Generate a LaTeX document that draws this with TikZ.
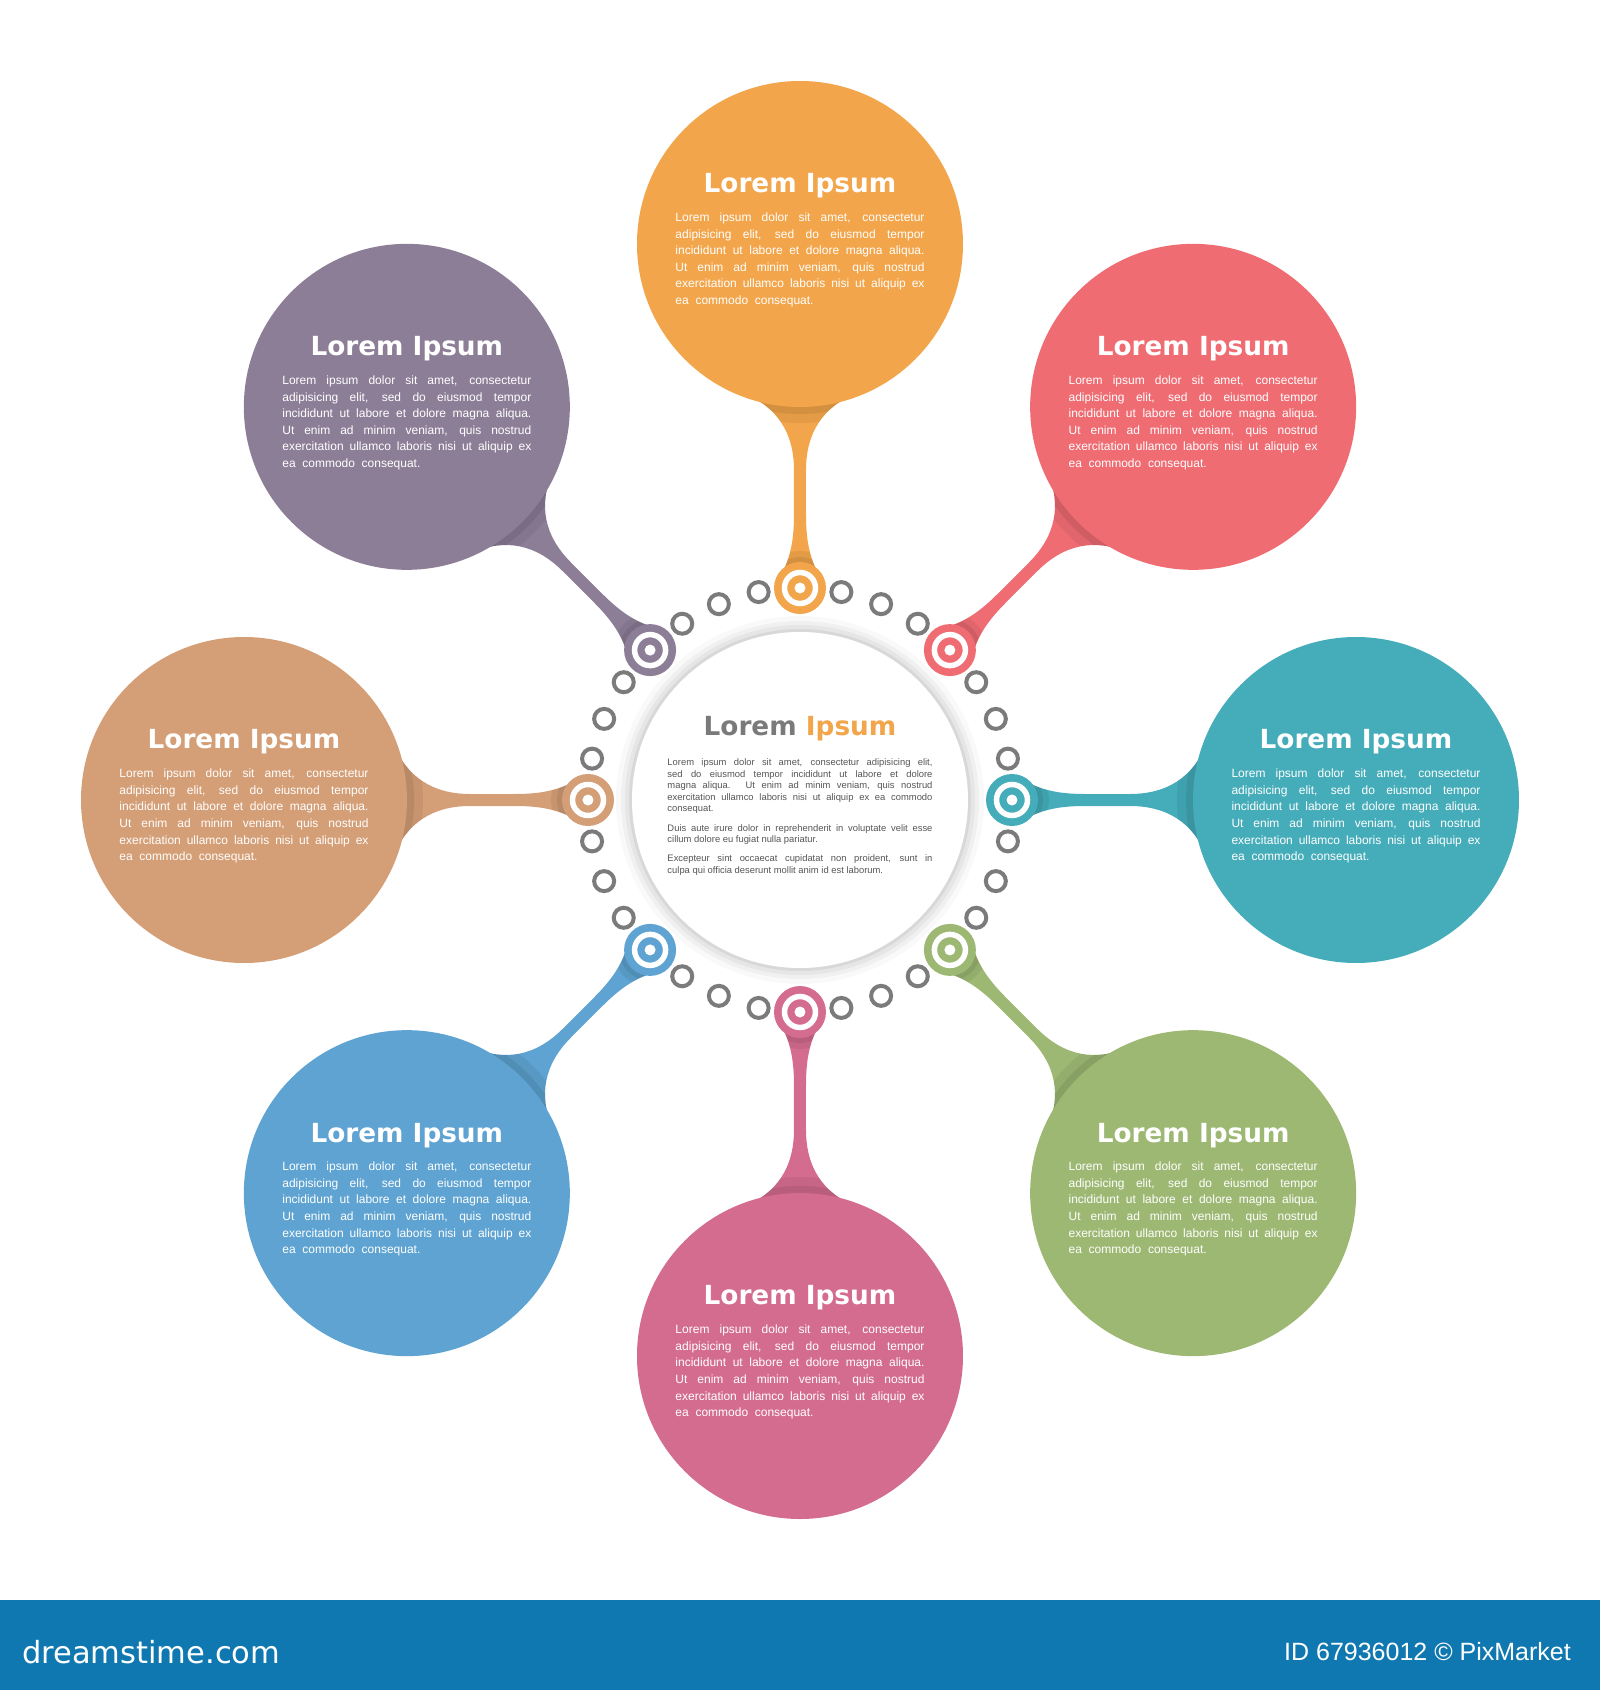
\documentclass[tikz,border=0pt]{standalone}
\usepackage{fontspec}
\setmainfont{Liberation Sans}
\newfontfamily\headfont{DejaVu Sans}

\definecolor{cOrange}{HTML}{F2A54A}
\definecolor{cCoral}{HTML}{EF6C73}
\definecolor{cTeal}{HTML}{45ACB9}
\definecolor{cGreen}{HTML}{9DB873}
\definecolor{cPink}{HTML}{D46C8F}
\definecolor{cBlue}{HTML}{5EA3D1}
\definecolor{cTan}{HTML}{D49E76}
\definecolor{cPurple}{HTML}{8D7E97}
\definecolor{cRing}{HTML}{7B7B7B}
\definecolor{cGray}{HTML}{7A7A7A}
\definecolor{cBody}{HTML}{555555}
\definecolor{cBanner}{HTML}{0F78B0}

% one justified line of petal text
\newcommand\jline[1]{\hbox to \hsize{#1}}
\newcommand\petalbody{\vbox{\hsize=249pt
  \jline{Lorem ipsum dolor sit amet, consectetur}
  \jline{adipisicing elit, sed do eiusmod tempor}
  \jline{incididunt ut labore et dolore magna aliqua.}
  \jline{Ut enim ad minim veniam, quis nostrud}
  \jline{exercitation ullamco laboris nisi ut aliquip ex}
  \hbox{ea\ \ commodo\ \ consequat.}}}
% stem from hub (r=212) to petal (r=556), pointing up
\newcommand\stempath{(-16,231) .. controls (-9,246) and (-6,262) .. (-6,285)
  -- (-6,330) .. controls (-6,368) and (-24,394) .. (-56,406)
  -- (56,406) .. controls (24,394) and (6,368) .. (6,330)
  -- (6,285) .. controls (6,262) and (9,246) .. (16,231) -- cycle}

\tikzset{
  petal/.style={circle, fill=#1, minimum size=326pt, inner sep=0pt},
  petaltitle/.style={text=white, inner sep=0pt,
    font=\headfont\bfseries\fontsize{26.3}{30}\selectfont},
  petaltext/.style={text=white, inner sep=0pt,
    font=\fontsize{12}{16.6}\selectfont},
  hub/.style={circle, fill=#1, minimum size=52pt, inner sep=0pt},
  dotring/.style={circle, draw=cRing, line width=4pt, minimum size=20pt, inner sep=0pt},
}

\begin{document}
\begin{tikzpicture}[x=1pt, y=1pt]
\useasboundingbox (-800,-890) rectangle (800,800);

% centre disc with soft glow
\foreach \r/\o in {184/0.025, 179/0.035, 175/0.045, 171/0.06}
  \fill[black, opacity=\o] (0,0) circle (\r);
\node[circle, fill=white, minimum size=336pt, inner sep=0pt] (hubdisc) at (0,0) {};
\node[font=\headfont\bfseries\fontsize{26.3}{30}\selectfont, inner sep=0pt] (centretitle)
  at (0,71) {\textcolor{cGray}{Lorem} \textcolor{cOrange}{Ipsum}};
\node[text=cBody, inner sep=0pt, font=\fontsize{9.4}{11.6}\selectfont] (centretext) at (0,-17)
  {\vbox{\hsize=265pt
    \jline{Lorem ipsum dolor sit amet, consectetur adipisicing elit,}
    \jline{sed do eiusmod tempor incididunt ut labore et dolore}
    \jline{magna aliqua. Ut enim ad minim veniam, quis nostrud}
    \jline{exercitation ullamco laboris nisi ut aliquip ex ea commodo}
    \hbox{consequat.}\vskip 7.5pt
    \jline{Duis aute irure dolor in reprehenderit in voluptate velit esse}
    \hbox{cillum dolore eu fugiat nulla pariatur.}\vskip 7.5pt
    \jline{Excepteur sint occaecat cupidatat non proident, sunt in}
    \hbox{culpa qui officia deserunt mollit anim id est laborum.}}};

% small grey rings between the hubs
\foreach \a in {0,45,...,315}
  \foreach \k in {1,2,3}
    \node[dotring] (dot-\a-\k) at (\a+\k*11.25:212) {};

% petals, stems and hubs
\foreach \ang/\col/\nm in {90/cOrange/north, 45/cCoral/northeast, 0/cTeal/east,
    -45/cGreen/southeast, -90/cPink/south, -135/cBlue/southwest,
    180/cTan/west, 135/cPurple/northwest}{
  \begin{scope}[rotate=\ang-90]
    \fill[\col] \stempath;
    \begin{scope}
      \clip \stempath;
      \fill[black, opacity=.06] (0,548) circle (171);
      \fill[black, opacity=.07] (0,552) circle (166);
      \fill[black, opacity=.06] (0,215) circle (34);
      \fill[black, opacity=.07] (0,213) circle (30);
    \end{scope}
  \end{scope}
  \node[petal=\col] (petal-\nm) at (\ang:556) {};
  \node[petaltitle] (title-\nm) at ([yshift=58pt]petal-\nm.center) {Lorem Ipsum};
  \node[petaltext] (text-\nm) at ([yshift=-16pt]petal-\nm.center) {\petalbody};
  \node[hub=\col] (hub-\nm) at (\ang:212) {};
  \draw[white, line width=5.5pt] (hub-\nm.center) circle (15.5);
  \fill[white] (hub-\nm.center) circle (5.5);
}

% bottom banner
\fill[cBanner] (-800,-800) rectangle (800,-890);
\node[anchor=west, text=white, inner sep=0pt, font=\headfont\fontsize{30.5}{32}\selectfont]
  (sitename) at (-778,-852) {dreamstime.com};
\node[anchor=east, text=white, inner sep=0pt, font=\fontsize{25}{27}\selectfont]
  (imageid) at (771,-852) {ID 67936012 © PixMarket};
\end{tikzpicture}
\end{document}
